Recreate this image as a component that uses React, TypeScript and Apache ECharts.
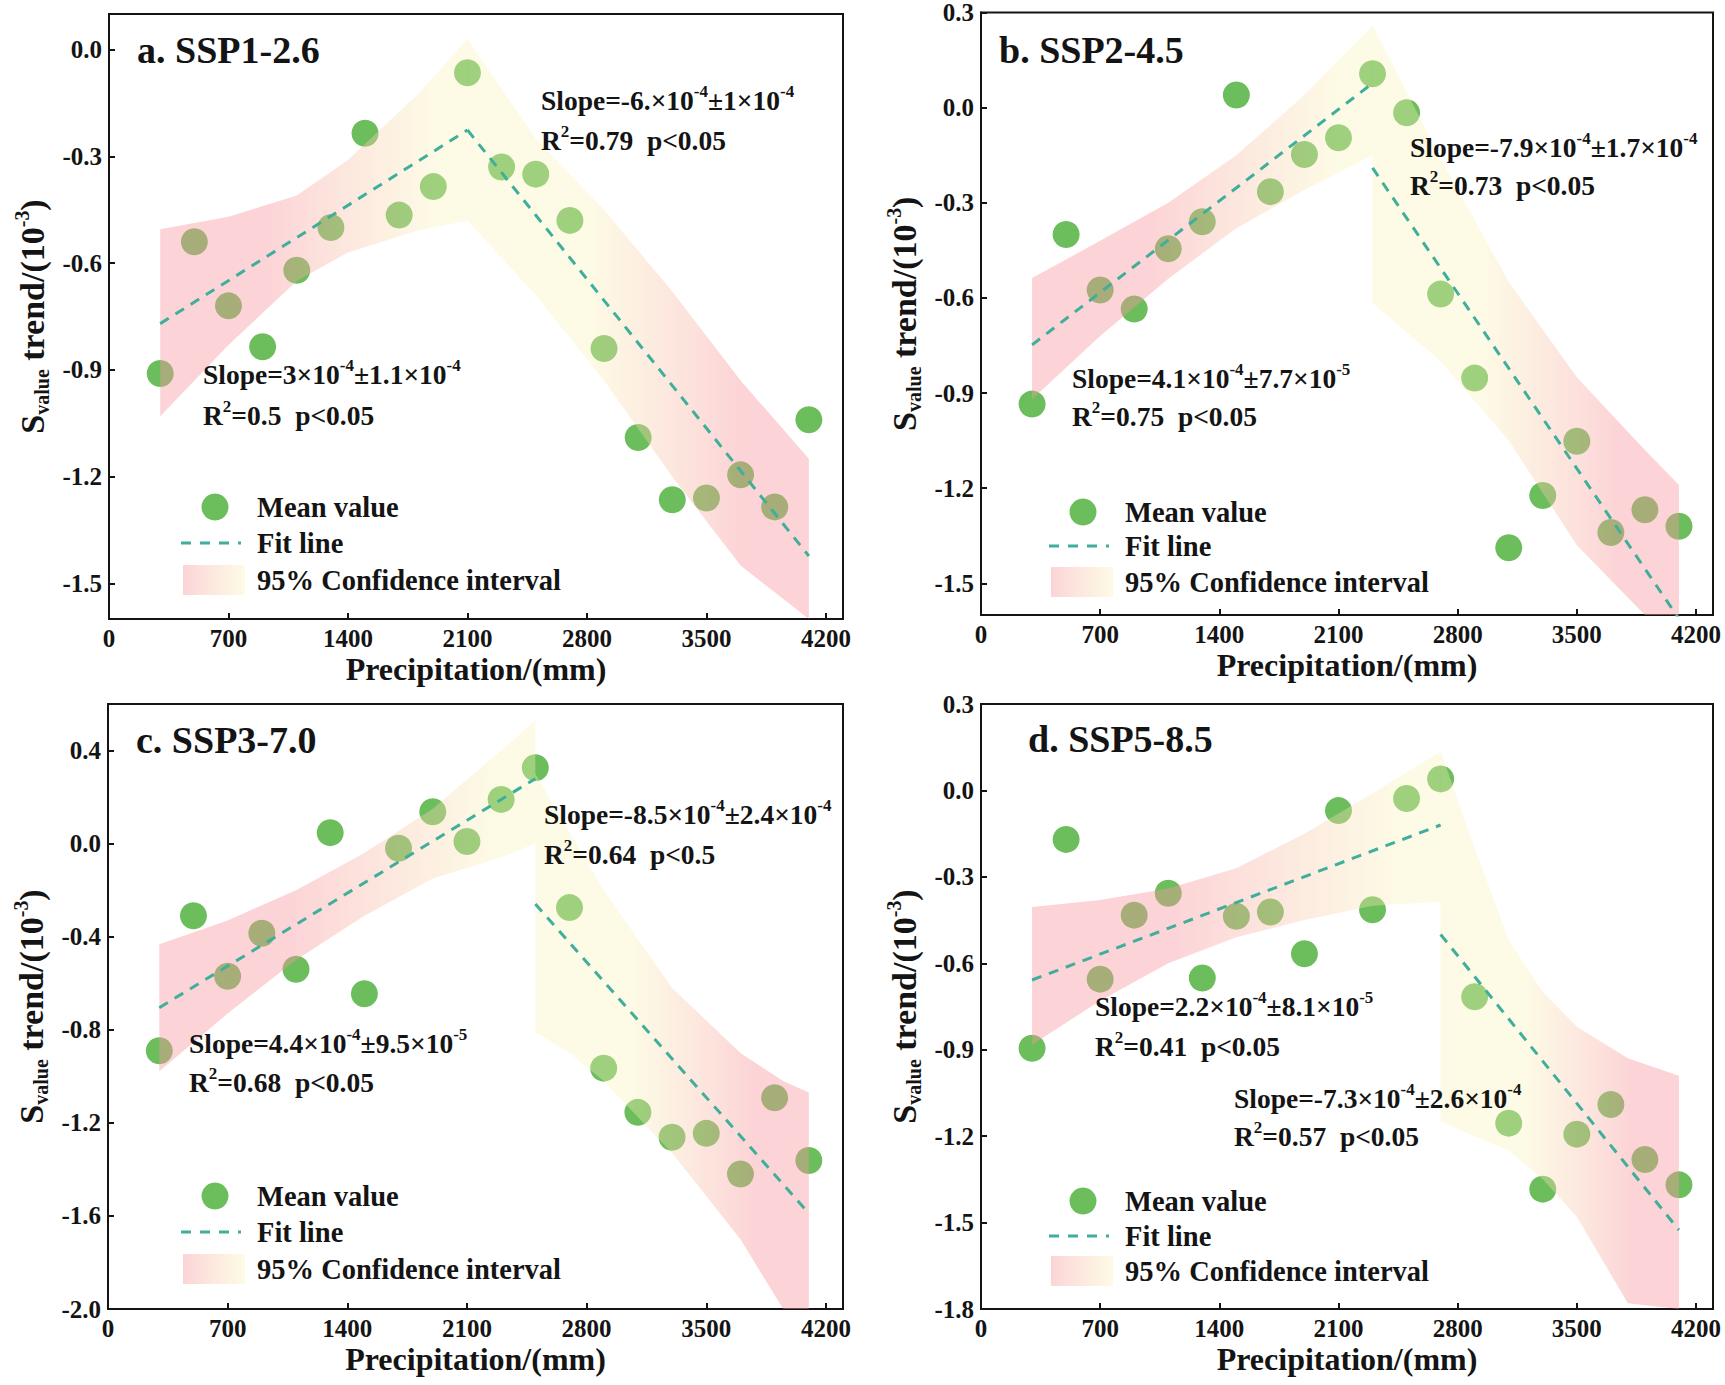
import React, { useEffect, useRef } from 'react';
import * as echarts from 'echarts';

const FONT = "'Liberation Serif', 'Times New Roman', Times, serif";
const INK = '#141414';
const GREEN = '#6cbd5c';
const TEAL = '#3fae9b';
const PINK = 'rgba(248,152,160,0.42)';
const CREAM = 'rgba(249,243,184,0.36)';

// ---------- data ----------
const X_VALUES = [300, 500, 700, 900, 1100, 1300, 1500, 1700, 1900, 2100, 2300, 2500, 2700, 2900, 3100, 3300, 3500, 3700, 3900, 4100];
const X_TICKS = [0, 700, 1400, 2100, 2800, 3500, 4200];

const Y_TICKS_A = [-1.5, -1.2, -0.9, -0.6, -0.3, 0.0];
const Y_TICKS_B = [-1.5, -1.2, -0.9, -0.6, -0.3, 0.0, 0.3];
const Y_TICKS_C = [-2.0, -1.6, -1.2, -0.8, -0.4, 0.0, 0.4];
const Y_TICKS_D = [-1.8, -1.5, -1.2, -0.9, -0.6, -0.3, 0.0, 0.3];

const MEAN_A = [-0.91, -0.54, -0.72, -0.835, -0.62, -0.5, -0.235, -0.465, -0.385, -0.065, -0.33, -0.35, -0.48, -0.84, -1.09, -1.265, -1.26, -1.195, -1.285, -1.04];
const MEAN_B = [-0.935, -0.4, -0.575, -0.635, -0.445, -0.36, 0.04, -0.265, -0.148, -0.095, 0.107, -0.016, -0.588, -0.853, -1.388, -1.223, -1.052, -1.34, -1.268, -1.32];
const MEAN_C = [-0.89, -0.31, -0.57, -0.385, -0.54, 0.047, -0.645, -0.02, 0.137, 0.009, 0.19, 0.326, -0.275, -0.965, -1.155, -1.262, -1.245, -1.42, -1.092, -1.362];
const MEAN_D = [-0.895, -0.17, -0.655, -0.433, -0.357, -0.651, -0.437, -0.422, -0.567, -0.07, -0.414, -0.028, 0.04, -0.716, -1.155, -1.384, -1.193, -1.09, -1.281, -1.369];

const FIT_A_LEFT = [[300, -0.77], [2100, -0.226]];
const FIT_A_RIGHT = [[2100, -0.226], [4100, -1.423]];
const FIT_B_LEFT = [[300, -0.748], [2300, 0.077]];
const FIT_B_RIGHT = [[2300, -0.19], [4100, -1.612]];
const FIT_C_LEFT = [[300, -0.705], [2500, 0.279]];
const FIT_C_RIGHT = [[2500, -0.26], [4100, -1.589]];
const FIT_D_LEFT = [[300, -0.658], [2700, -0.12]];
const FIT_D_RIGHT = [[2700, -0.5], [4100, -1.526]];

// [precipitation, upper bound, lower bound]
const BAND_A_LEFT = [[300, -0.505, -1.03], [700, -0.47, -0.83], [1100, -0.41, -0.65], [1400, -0.31, -0.57], [1800, -0.13, -0.51], [2100, 0.03, -0.48]];
const BAND_A_RIGHT = [[2100, 0.03, -0.48], [2500, -0.25, -0.69], [2900, -0.45, -0.93], [3300, -0.68, -1.2], [3700, -0.93, -1.45], [4100, -1.15, -1.75]];
const BAND_B_LEFT = [[300, -0.537, -0.92], [700, -0.42, -0.72], [1100, -0.3, -0.54], [1500, -0.15, -0.38], [1900, 0.04, -0.26], [2300, 0.258, -0.15]];
const BAND_B_RIGHT = [[2300, 0.258, -0.617], [2700, -0.16, -0.8], [3100, -0.55, -1.05], [3500, -0.85, -1.38], [3900, -1.08, -1.85], [4100, -1.19, -2.1]];
const BAND_C_LEFT = [[300, -0.433, -0.978], [700, -0.33, -0.73], [1100, -0.2, -0.5], [1500, -0.04, -0.31], [1900, 0.15, -0.15], [2300, 0.4, -0.06], [2500, 0.53, 0.0]];
const BAND_C_RIGHT = [[2500, 0.3, -0.81], [2700, 0.05, -0.9], [2900, -0.2, -1.02], [3300, -0.62, -1.33], [3700, -0.9, -1.7], [3950, -1.02, -2.0], [4100, -1.07, -2.2]];
const BAND_D_LEFT = [[300, -0.405, -0.883], [700, -0.38, -0.73], [1100, -0.34, -0.6], [1500, -0.27, -0.51], [1900, -0.15, -0.45], [2300, -0.01, -0.4], [2700, 0.135, -0.386]];
const BAND_D_RIGHT = [[2700, 0.135, -1.15], [2900, -0.2, -1.2], [3100, -0.52, -1.25], [3300, -0.7, -1.35], [3500, -0.82, -1.48], [3800, -0.93, -1.78], [4100, -0.99, -2.0]];

const TITLES = ['a. SSP1-2.6', 'b. SSP2-4.5', 'c. SSP3-7.0', 'd. SSP5-8.5'];
const STATS_A = ['Slope=-6.×10{sup|-4}±1×10{sup|-4}', 'R{sup|2}=0.79\u00a0\u00a0p<0.05', 'Slope=3×10{sup|-4}±1.1×10{sup|-4}', 'R{sup|2}=0.5\u00a0\u00a0p<0.05'];
const STATS_B = ['Slope=-7.9×10{sup|-4}±1.7×10{sup|-4}', 'R{sup|2}=0.73\u00a0\u00a0p<0.05', 'Slope=4.1×10{sup|-4}±7.7×10{sup|-5}', 'R{sup|2}=0.75\u00a0\u00a0p<0.05'];
const STATS_C = ['Slope=-8.5×10{sup|-4}±2.4×10{sup|-4}', 'R{sup|2}=0.64\u00a0\u00a0p<0.5', 'Slope=4.4×10{sup|-4}±9.5×10{sup|-5}', 'R{sup|2}=0.68\u00a0\u00a0p<0.05'];
const STATS_D = ['Slope=-7.3×10{sup|-4}±2.6×10{sup|-4}', 'R{sup|2}=0.57\u00a0\u00a0p<0.05', 'Slope=2.2×10{sup|-4}±8.1×10{sup|-5}', 'R{sup|2}=0.41\u00a0\u00a0p<0.05'];
const LEGEND_LABELS = ['Mean value', 'Fit line', '95% Confidence interval'];

const PANELS = [
  { yMin: -1.6, yMax: 0.1, yTicks: Y_TICKS_A, mean: MEAN_A, fits: [FIT_A_LEFT, FIT_A_RIGHT], bands: [BAND_A_LEFT, BAND_A_RIGHT], stats: STATS_A },
  { yMin: -1.6, yMax: 0.3, yTicks: Y_TICKS_B, mean: MEAN_B, fits: [FIT_B_LEFT, FIT_B_RIGHT], bands: [BAND_B_LEFT, BAND_B_RIGHT], stats: STATS_B },
  { yMin: -2.0, yMax: 0.6, yTicks: Y_TICKS_C, mean: MEAN_C, fits: [FIT_C_LEFT, FIT_C_RIGHT], bands: [BAND_C_LEFT, BAND_C_RIGHT], stats: STATS_C },
  { yMin: -1.8, yMax: 0.3, yTicks: Y_TICKS_D, mean: MEAN_D, fits: [FIT_D_LEFT, FIT_D_RIGHT], bands: [BAND_D_LEFT, BAND_D_RIGHT], stats: STATS_D },
];

// ---------- layout ----------
const LAYOUT = [
  { grid: { left: 109, top: 14, width: 734, height: 605 }, title: [137, 50], stats: [[541, 100], [541, 140], [203, 374], [203, 415]], legend: [215, 507], rows: [0, 36, 73] },
  { grid: { left: 981, top: 11, width: 732, height: 604 }, title: [999, 50], stats: [[1410, 147], [1410, 185], [1072, 378], [1072, 416]], legend: [1083, 512], rows: [0, 34, 70] },
  { grid: { left: 108, top: 704, width: 735, height: 605 }, title: [136, 740], stats: [[544, 814], [544, 854], [189, 1043], [189, 1082]], legend: [215, 1196], rows: [0, 36, 73] },
  { grid: { left: 981, top: 704, width: 732, height: 605 }, title: [1028, 739], stats: [[1234, 1098], [1234, 1136], [1095, 1006], [1095, 1046]], legend: [1083, 1201], rows: [0, 35, 70] },
];

const gradLeft = () =>
  new echarts.graphic.LinearGradient(0, 0, 1, 0, [
    { offset: 0, color: PINK },
    { offset: 0.35, color: PINK },
    { offset: 0.9, color: CREAM },
    { offset: 1, color: CREAM },
  ]);
const gradRight = () =>
  new echarts.graphic.LinearGradient(0, 0, 1, 0, [
    { offset: 0, color: CREAM },
    { offset: 0.35, color: CREAM },
    { offset: 0.8, color: PINK },
    { offset: 1, color: PINK },
  ]);
const gradLegend = () =>
  new echarts.graphic.LinearGradient(0, 0, 1, 0, [
    { offset: 0, color: PINK },
    { offset: 1, color: CREAM },
  ]);

const supRich = {
  sup: { fontSize: 17, fontFamily: FONT, fontWeight: 'bold', fill: INK, color: INK, verticalAlign: 'top', lineHeight: 22 },
};

function bandSeries(i: number, rows: number[][], left: boolean) {
  return {
    type: 'custom',
    xAxisIndex: i,
    yAxisIndex: i,
    z: 3,
    silent: true,
    data: [0],
    renderItem: (params: any, api: any) => {
      const cs = params.coordSys;
      const top = rows.map((r) => api.coord([r[0], r[1]]));
      const bot = rows.slice().reverse().map((r) => api.coord([r[0], r[2]]));
      const pts = top.concat(bot).map((p: number[]) => [
        Math.min(Math.max(p[0], cs.x), cs.x + cs.width),
        Math.min(Math.max(p[1], cs.y), cs.y + cs.height),
      ]);
      return {
        type: 'polygon',
        shape: { points: pts },
        style: { fill: left ? gradLeft() : gradRight() },
      };
    },
  };
}

function buildOption() {
  const tickLabel = { fontFamily: FONT, fontWeight: 'bold', fontSize: 25, color: INK };
  const grid = LAYOUT.map((l) => ({ ...l.grid, show: true, borderColor: INK, borderWidth: 2, backgroundColor: 'transparent' }));
  const xAxis = PANELS.map((p, i) => ({
    type: 'value',
    gridIndex: i,
    min: 0,
    max: 4300,
    name: 'Precipitation/(mm)',
    nameLocation: 'middle',
    nameGap: 34,
    nameTextStyle: { fontFamily: FONT, fontWeight: 'bold', fontSize: 32, color: INK },
    axisLine: { show: true, onZero: false, lineStyle: { color: INK, width: 2 } },
    axisTick: { show: true, inside: true, length: 6, customValues: X_TICKS, lineStyle: { color: INK, width: 2 } },
    axisLabel: { ...tickLabel, margin: 7, customValues: X_TICKS, formatter: (v: number) => String(Math.round(v)) },
    splitLine: { show: false },
  }));
  const yAxis = PANELS.map((p, i) => ({
    type: 'value',
    gridIndex: i,
    min: p.yMin,
    max: p.yMax,
    name: '{s|S}{sub|value}{s|\u00a0trend/(10}{sup|-3}{s|)}',
    nameLocation: 'middle',
    nameRotate: 90,
    nameGap: 57,
    nameTextStyle: {
      fontFamily: FONT,
      fontWeight: 'bold',
      fontSize: 34,
      color: INK,
      rich: {
        s: { fontFamily: FONT, fontWeight: 'bold', fontSize: 34, color: INK, lineHeight: 40 },
        sub: { fontFamily: FONT, fontWeight: 'bold', fontSize: 20, color: INK, verticalAlign: 'bottom' },
        sup: { fontFamily: FONT, fontWeight: 'bold', fontSize: 20, color: INK, verticalAlign: 'top' },
      },
    },
    axisLine: { show: true, onZero: false, lineStyle: { color: INK, width: 2 } },
    axisTick: { show: true, inside: true, length: 6, customValues: p.yTicks, lineStyle: { color: INK, width: 2 } },
    axisLabel: { ...tickLabel, margin: 7, customValues: p.yTicks, formatter: (v: number) => v.toFixed(1) },
    splitLine: { show: false },
  }));

  const series: any[] = [];
  PANELS.forEach((p, i) => {
    series.push({
      type: 'scatter',
      xAxisIndex: i,
      yAxisIndex: i,
      z: 2,
      silent: true,
      symbol: 'circle',
      symbolSize: 27,
      itemStyle: { color: GREEN, opacity: 1 },
      data: X_VALUES.map((x, j) => [x, p.mean[j]]),
    });
    series.push(bandSeries(i, p.bands[0], true));
    series.push(bandSeries(i, p.bands[1], false));
    p.fits.forEach((f) => {
      series.push({
        type: 'line',
        xAxisIndex: i,
        yAxisIndex: i,
        z: 4,
        silent: true,
        clip: true,
        symbol: 'none',
        showSymbol: false,
        lineStyle: { color: TEAL, width: 3, type: [10, 8] },
        data: f,
      });
    });
  });

  const elements: any[] = [];
  LAYOUT.forEach((l, i) => {
    elements.push({
      type: 'text',
      x: l.title[0],
      y: l.title[1],
      z: 20,
      style: { text: TITLES[i], fontFamily: FONT, fontWeight: 'bold', fontSize: 38, fill: INK, align: 'left', verticalAlign: 'middle' },
    });
    PANELS[i].stats.forEach((s, k) => {
      elements.push({
        type: 'text',
        x: l.stats[k][0],
        y: l.stats[k][1],
        z: 20,
        style: {
          text: s,
          fontFamily: FONT,
          fontWeight: 'bold',
          fontSize: 27.5,
          lineHeight: 34,
          fill: INK,
          align: 'left',
          verticalAlign: 'middle',
          rich: supRich,
        },
      });
    });
    const [cx, cy] = l.legend;
    const rows = l.rows;
    elements.push({ type: 'circle', z: 20, shape: { cx, cy, r: 13.5 }, style: { fill: GREEN } });
    elements.push({ type: 'line', z: 20, shape: { x1: cx - 34, y1: cy + rows[1], x2: cx + 26, y2: cy + rows[1] }, style: { stroke: TEAL, lineWidth: 3, lineDash: [10, 9] } });
    elements.push({ type: 'rect', z: 20, shape: { x: cx - 32, y: cy + rows[2] - 15, width: 62, height: 30 }, style: { fill: gradLegend() } });
    LEGEND_LABELS.forEach((t, k) => {
      elements.push({
        type: 'text',
        x: cx + 42,
        y: cy + rows[k],
        z: 20,
        style: { text: t, fontFamily: FONT, fontWeight: 'bold', fontSize: 28.5, fill: INK, align: 'left', verticalAlign: 'middle' },
      });
    });
  });

  return {
    animation: false,
    backgroundColor: '#ffffff',
    grid,
    xAxis,
    yAxis,
    series,
    graphic: { elements },
  };
}

export default function App() {
  const ref = useRef<HTMLDivElement>(null);
  useEffect(() => {
    if (!ref.current) return;
    const chart = echarts.init(ref.current, undefined, { renderer: 'svg' });
    chart.setOption(buildOption() as any);
    return () => chart.dispose();
  }, []);
  return <div ref={ref} style={{ position: 'absolute', left: 0, top: 0, width: 1725, height: 1385, background: '#fff' }} />;
}
